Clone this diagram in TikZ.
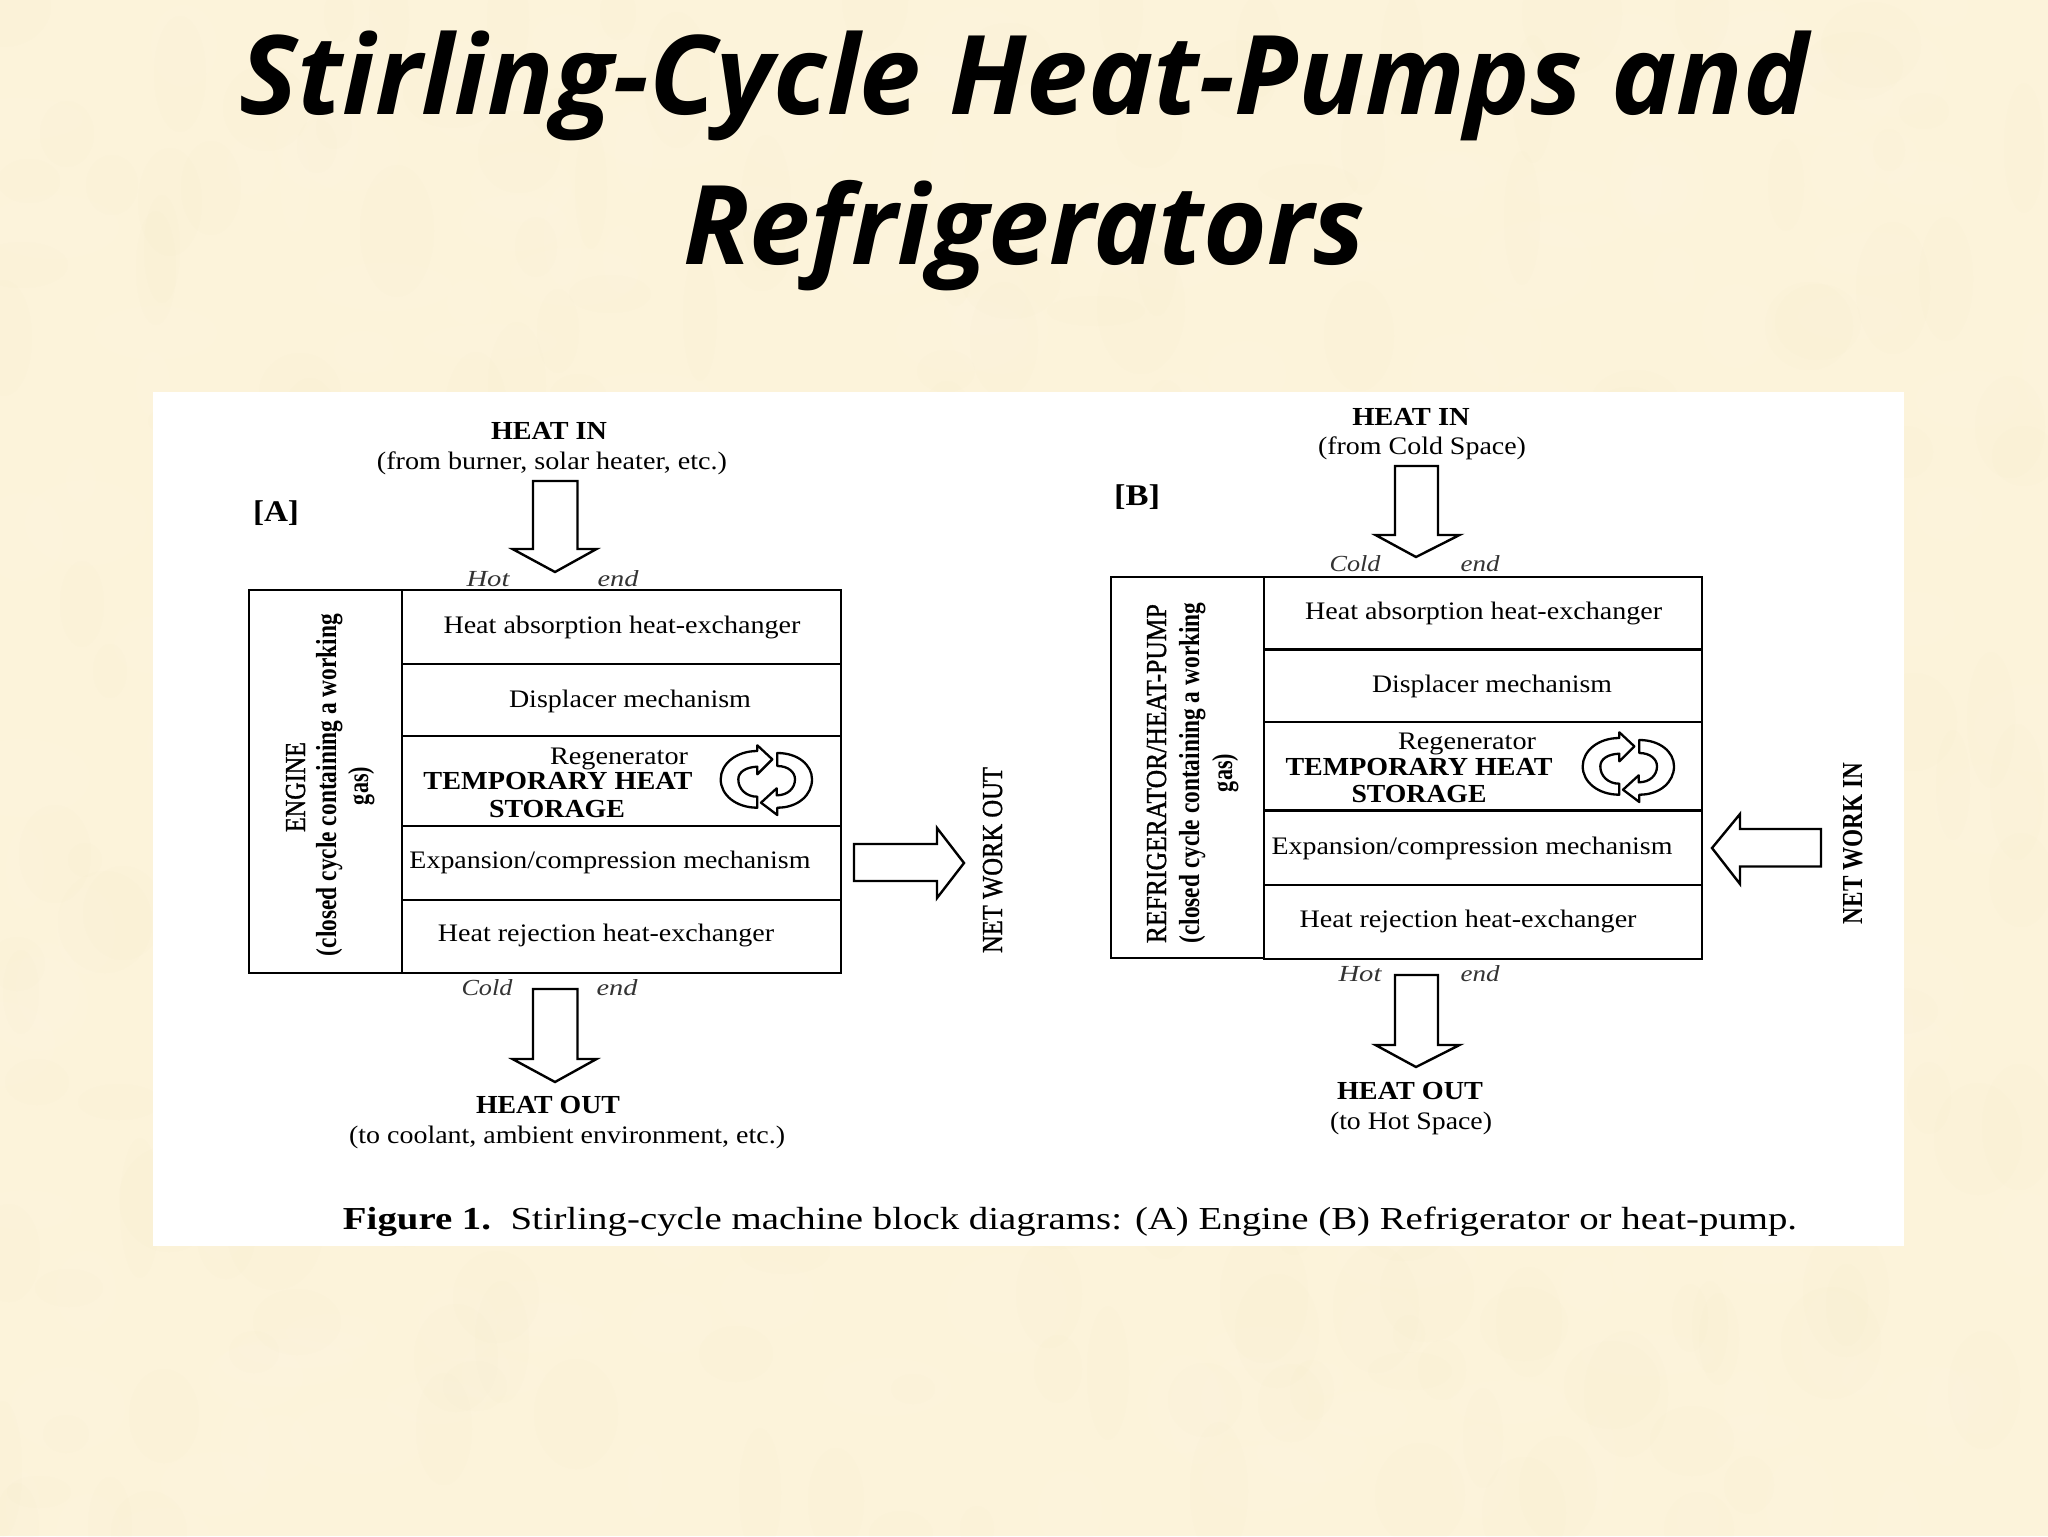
\documentclass[tikz,border=0pt]{standalone}
\usepackage{fontspec}
\usepackage{graphicx}
\setmainfont{Liberation Serif}
\newfontfamily\titlefont{Open Sans}
\newfontfamily\semibold[FakeBold=1.2]{Liberation Serif}
\newcommand{\fw}[2]{\resizebox{\dimexpr #1pt/2\relax}{\height}{#2}}
\definecolor{paper}{HTML}{FCF3DA}
\definecolor{paperlight}{HTML}{FFF9E8}
\definecolor{paperdark}{HTML}{F6E8C4}
\tikzset{
  lbl/.style={inner sep=0pt,anchor=base,yshift=-4pt,font=\fontsize{12.6}{14}\selectfont},
  lblb/.style={lbl,font=\fontsize{13}{14}\selectfont\bfseries},
  lbli/.style={inner sep=0pt,anchor=base,yshift=-3.7pt,text=black!80,font=\fontsize{11.5}{14}\selectfont\itshape},
  side/.style={inner sep=0pt,anchor=base,rotate=90,xshift=0pt,yshift=0pt,font=\fontsize{14.5}{16}\semibold},
  sideb/.style={side,font=\fontsize{14.5}{16}\selectfont\bfseries},
  tagl/.style={inner sep=0pt,anchor=base,yshift=-4.5pt,font=\fontsize{15}{16}\selectfont\bfseries},
  capt/.style={inner sep=0pt,anchor=base,font=\fontsize{16}{18}\selectfont},
  ttl/.style={inner sep=0pt,anchor=base,font=\fontsize{55}{70}\selectfont\titlefont\bfseries\itshape},
  wire/.style={draw=black,line width=1.2pt,line join=miter},
  block/.style={draw=black,fill=white,line width=1.2pt,line join=miter},
  swirl/.style={draw=black,fill=white,line width=1.15pt,line join=round},
}
\newcommand{\swirlat}[2]{%
  \begin{scope}[shift={(#1,#2)}]
    \draw[swirl] (-8.7,27.7) .. controls (-30,27.7) and (-45.3,15) .. (-45.3,-0.7)
       .. controls (-45.3,-16) and (-30,-29) .. (-8.7,-29) -- (-8.7,-34.7) -- (6.3,-20.7)
       -- (-8.7,-5.7) -- (-8.7,-13.3) .. controls (-20,-13) and (-27.7,-8) .. (-27.7,-0.7)
       .. controls (-27.7,9) and (-20,16.7) .. (-8.7,16.7) -- cycle;
    \draw[swirl] (11.3,-27) .. controls (32,-27) and (46,-15) .. (46,-0.7)
       .. controls (46,15) and (32,27.7) .. (11.3,27.7) -- (11.3,35) -- (-5,22.7)
       -- (10.7,8.3) -- (10.7,15.3) .. controls (22,15.3) and (29,8) .. (29,-0.7)
       .. controls (29,-8) and (22,-14) .. (11.3,-14) -- cycle;
  \end{scope}}
\begin{document}
\begin{tikzpicture}[x=0.5pt,y=-0.5pt]
\useasboundingbox (0,0) rectangle (2048,1536);
\fill[paper] (0,0) rectangle (2048,1536);
\begin{scope}
  \clip (0,0) rectangle (2048,1536);
  \pgfmathsetseed{11}
  \foreach \i in {1,...,260} {
    \pgfmathsetmacro\xx{random(0,2048)}
    \pgfmathsetmacro\yy{random(0,1536)}
    \pgfmathsetmacro\rx{random(15,70)}
    \pgfmathsetmacro\ry{random(15,50)}
    \fill[paperlight,opacity=.10] (\xx,\yy) ellipse [x radius=\rx, y radius=\ry];
    \pgfmathsetmacro\xx{random(0,2048)}
    \pgfmathsetmacro\yy{random(0,1536)}
    \fill[paperdark,opacity=.06] (\xx,\yy) ellipse [x radius=\ry, y radius=\rx];
  }
\end{scope}
\fill[white] (153,392) rectangle (1904,1246);

% title
\node[ttl] (title1) at (1024,114) {\fw{1570}{Stirling-Cycle Heat-Pumps and}};
\node[ttl] (title2) at (1024,264) {\fw{682}{Refrigerators}};

% panel A
\draw[wire] (249,590) rectangle (841,973);
\draw[wire] (402,590) -- (402,973);
\draw[wire] (402,664) -- (841,664);
\draw[wire] (402,736) -- (841,736);
\draw[wire] (402,826) -- (841,826);
\draw[wire] (402,900) -- (841,900);
\draw[block] (533,481) -- (577.5,481) -- (577.5,549) -- (596.5,549) -- (555,572) -- (512.5,549) -- (533,549) -- cycle;
\draw[block] (533,989) -- (577.5,989) -- (577.5,1059) -- (596.5,1059) -- (555,1082) -- (512.5,1059) -- (533,1059) -- cycle;
\draw[block] (854,844) -- (937,844) -- (937,828) -- (964,863) -- (937,898) -- (937,881) -- (854,881) -- cycle;
\swirlat{766}{780}

\node[lblb] (aheatin) at (549,431) {\fw{116}{HEAT IN}};
\node[lbl] (aheatsrc) at (552,461) {\fw{350}{(from burner, solar heater, etc.)}};
\node[tagl] (atag) at (276,512) {\fw{46}{[A]}};
\node[lbli] (ahot) at (488,579) {\fw{43}{Hot}};
\node[lbli] (ahotend) at (618,579) {\fw{41}{end}};
\node[lbl] (a1) at (622,625) {\fw{357}{Heat absorption heat-exchanger}};
\node[lbl] (a2) at (630,699) {\fw{242}{Displacer mechanism}};
\node[lbl] (a3) at (619,756) {\fw{138}{Regenerator}};
\node[lblb] (a3b) at (558,781) {\fw{269}{TEMPORARY HEAT}};
\node[lblb] (a3c) at (557,809.5) {\fw{136}{STORAGE}};
\node[lbl] (a4) at (610,860) {\fw{401}{Expansion/compression mechanism}};
\node[lbl] (a5) at (606,933) {\fw{336}{Heat rejection heat-exchanger}};
\node[side] (aeng) at (305,787) {\fw{90}{ENGINE}};
\node[sideb] (aclosed) at (336,785) {\fw{342}{(closed cycle containing a working}};
\node[sideb] (agas) at (368,786) {\fw{38}{gas)}};
\node[side] (anet) at (1002,860) {\fw{186}{NET WORK OUT}};
\node[lbli] (acold) at (487,988) {\fw{51}{Cold}};
\node[lbli] (acoldend) at (617,988) {\fw{41}{end}};
\node[lblb] (aheatout) at (548,1105) {\fw{144}{HEAT OUT}};
\node[lbl] (asink) at (567,1135) {\fw{436}{(to coolant, ambient environment, etc.)}};

% panel B
\draw[wire] (1111,577) rectangle (1264,958);
\draw[wire] (1264,577) rectangle (1702,959);
\draw[wire] (1264,649.5) -- (1702,649.5);
\draw[wire] (1264,722) -- (1702,722);
\draw[wire] (1264,810.6) -- (1702,810.6);
\draw[wire] (1264,885) -- (1702,885);
\draw[block] (1395,466) -- (1438,466) -- (1438,535) -- (1459.5,535) -- (1416,557) -- (1375.5,535) -- (1395,535) -- cycle;
\draw[block] (1395,975) -- (1438,975) -- (1438,1045) -- (1459.5,1045) -- (1416,1067) -- (1375.5,1045) -- (1395,1045) -- cycle;
\draw[block] (1821,829) -- (1740,829) -- (1740,814) -- (1712,848) -- (1740,884) -- (1740,866.5) -- (1821,866.5) -- cycle;
\swirlat{1628}{767}

\node[lblb] (bheatin) at (1411,417) {\fw{117.5}{HEAT IN}};
\node[lbl] (bheatsrc) at (1422,446) {\fw{208}{(from Cold Space)}};
\node[tagl] (btag) at (1137,496.5) {\fw{46}{[B]}};
\node[lbli] (bcold) at (1355,564) {\fw{51}{Cold}};
\node[lbli] (bcoldend) at (1480,564) {\fw{39}{end}};
\node[lbl] (b1) at (1483.6,611) {\fw{357}{Heat absorption heat-exchanger}};
\node[lbl] (b2) at (1492,684) {\fw{240}{Displacer mechanism}};
\node[lbl] (b3) at (1467,741) {\fw{138}{Regenerator}};
\node[lblb] (b3b) at (1419,767) {\fw{267}{TEMPORARY HEAT}};
\node[lblb] (b3c) at (1419,794) {\fw{135}{STORAGE}};
\node[lbl] (b4) at (1472,846) {\fw{401}{Expansion/compression mechanism}};
\node[lbl] (b5) at (1468,919) {\fw{337}{Heat rejection heat-exchanger}};
\node[side] (bref) at (1166,773.6) {\fw{339}{REFRIGERATOR/HEAT-PUMP}};
\node[sideb] (bclosed) at (1199,773) {\fw{341}{(closed cycle containing a working}};
\node[sideb] (bgas) at (1232,773) {\fw{38}{gas)}};
\node[sideb] (bnet) at (1862,843.6) {\fw{161}{NET WORK IN}};
\node[lbli] (bhot) at (1360,974) {\fw{43}{Hot}};
\node[lbli] (bhotend) at (1480,974) {\fw{39}{end}};
\node[lblb] (bheatout) at (1410,1091) {\fw{146}{HEAT OUT}};
\node[lbl] (bsink) at (1411,1121) {\fw{162}{(to Hot Space)}};

% caption
\node[capt] (caption) at (1070,1229) {\fw{1454}{\textbf{Figure 1.}\ \ Stirling-cycle machine block diagrams: (A) Engine (B) Refrigerator or heat-pump.}};
\end{tikzpicture}
\end{document}
